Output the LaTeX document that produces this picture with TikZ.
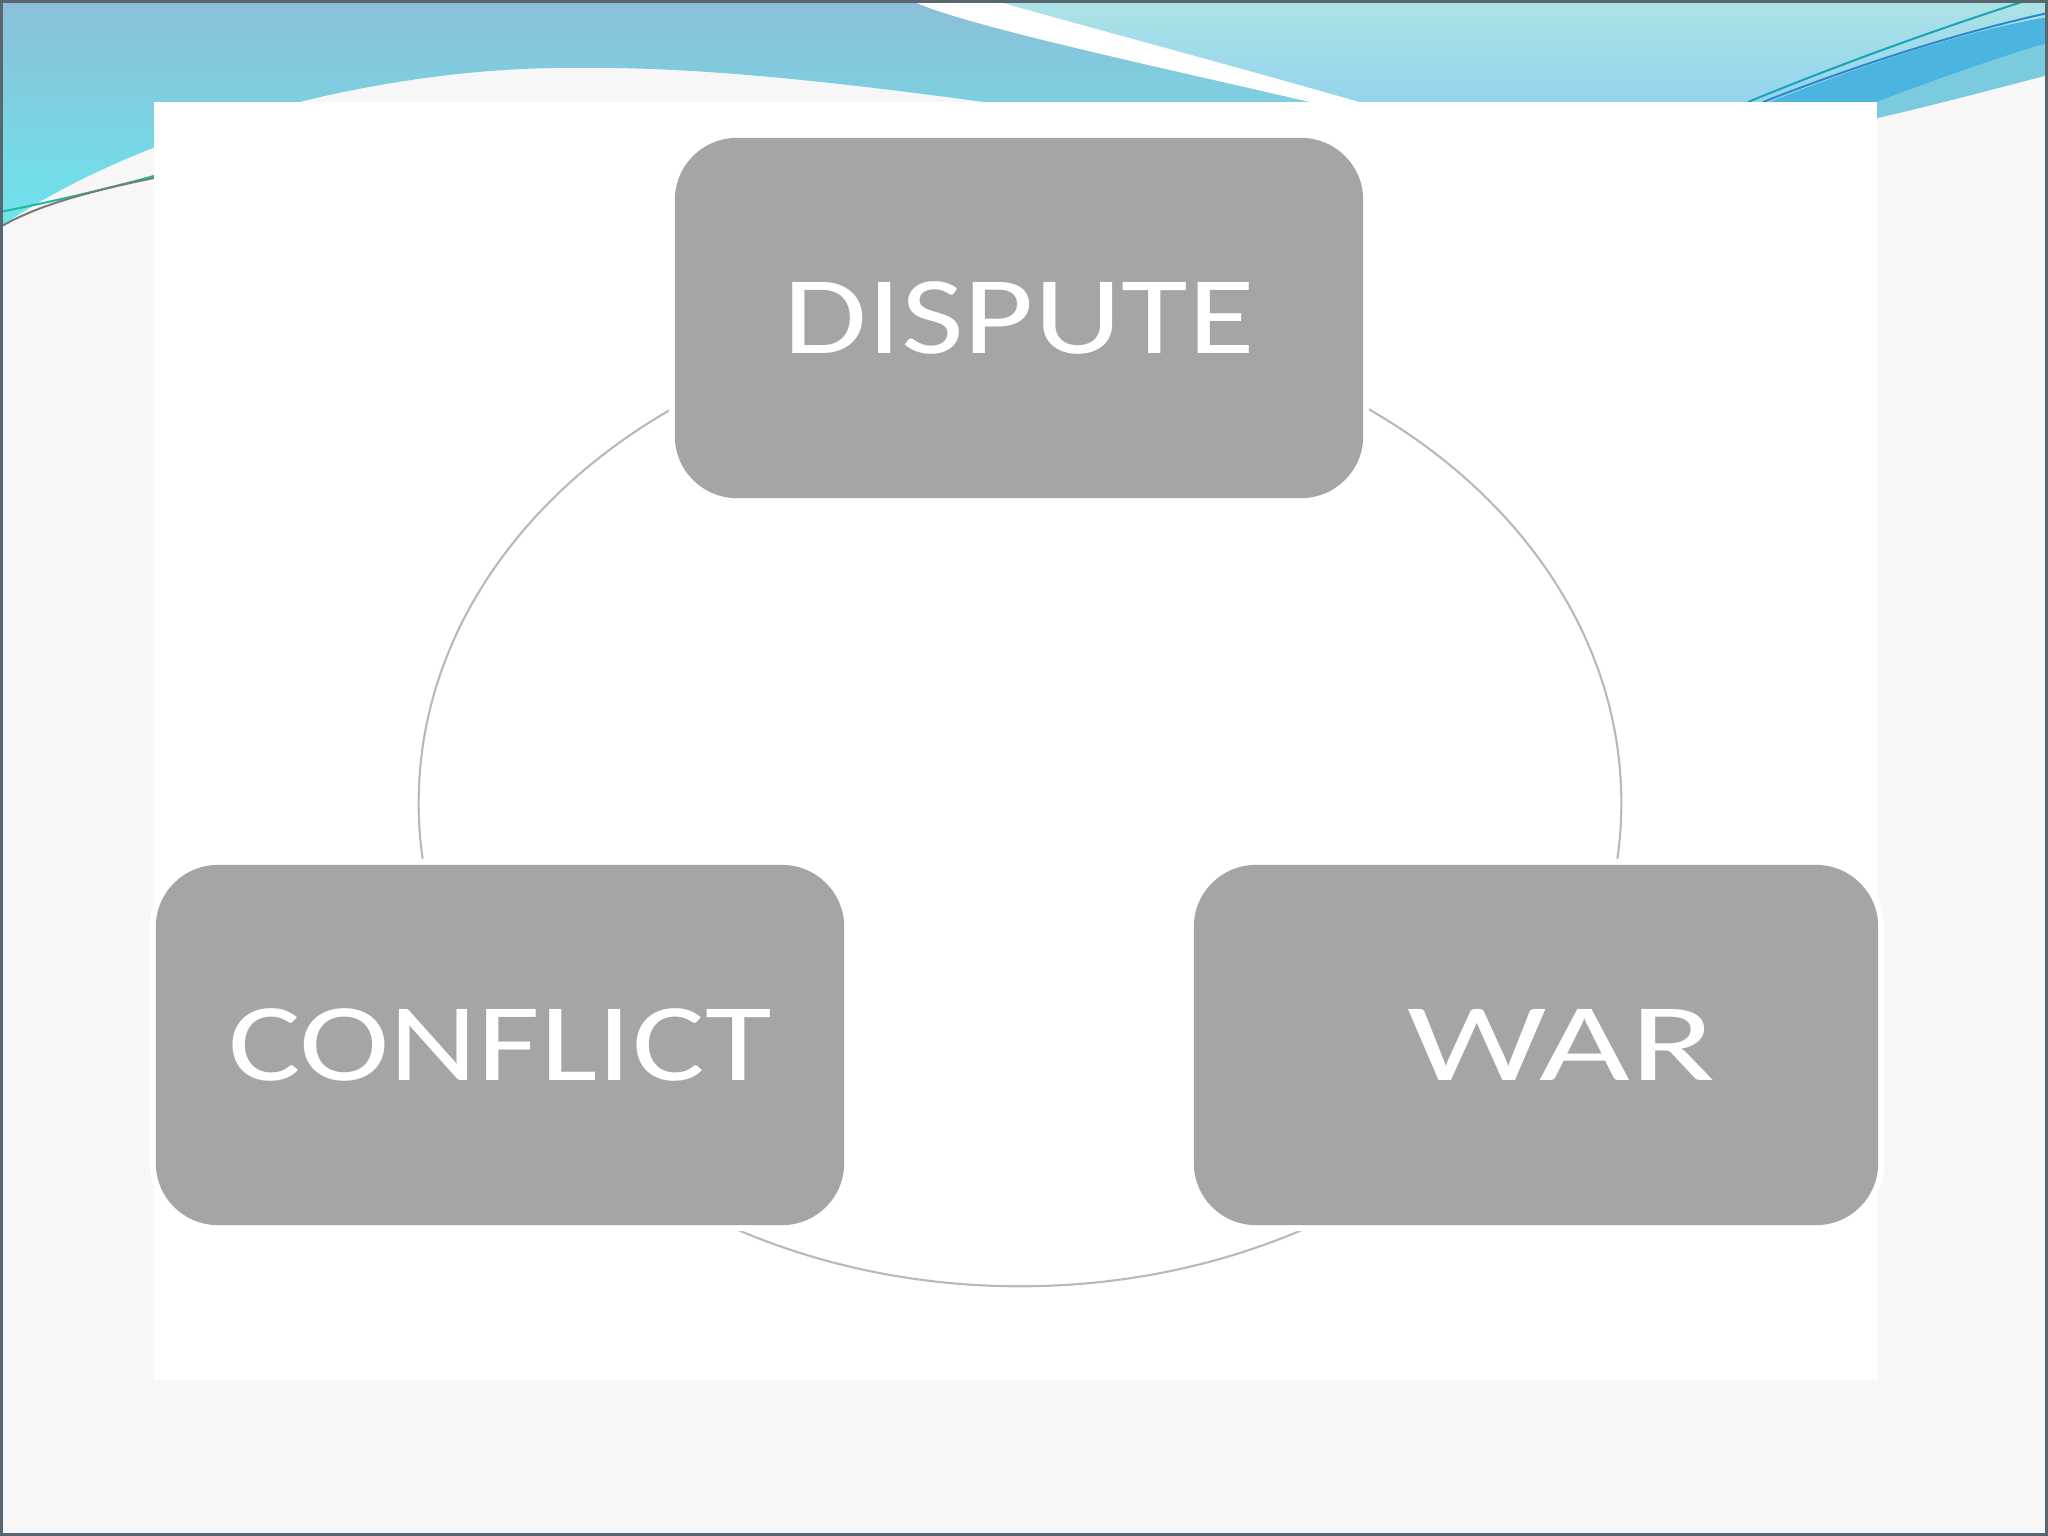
\documentclass[tikz,border=0pt]{standalone}
\usepackage{fontspec}
\setmainfont[FakeStretch=1.23]{Carlito}
\usepackage{tikz}
\usetikzlibrary{positioning}
\usepackage{xcolor}

\definecolor{slidebg}{HTML}{F7F7F7}
\definecolor{waveblue}{HTML}{8BBFD7}
\definecolor{wavecyan}{HTML}{6DE4EE}
\definecolor{skycyan}{HTML}{ADE3E6}
\definecolor{skyblue}{HTML}{90D1EE}
\definecolor{banddark}{HTML}{4CB5DF}
\definecolor{bandlight}{HTML}{7ACBE0}
\definecolor{lineteal}{HTML}{17A3B8}
\definecolor{lineblue}{HTML}{2A88CC}
\definecolor{leafteal}{HTML}{1EB89E}
\definecolor{leafgray}{HTML}{7A7A7A}
\definecolor{boxgray}{HTML}{A5A5A5}
\definecolor{ringgray}{HTML}{B9B9B9}
\definecolor{slideframe}{HTML}{5A666E}

\begin{document}
\begin{tikzpicture}[
  x=0.01cm, y=-0.01cm,
  font=\fontsize{31.5}{38}\selectfont,
  stage/.style={fill=boxgray, rounded corners=0.62cm, inner sep=0pt,
    minimum width=6.88cm, minimum height=3.6cm, text=white,
    preaction={draw=white, line width=0.12cm}},
  cycleline/.style={draw=ringgray, line width=0.6pt},
  thread/.style={line width=0.02cm}
]
\useasboundingbox (0,0) rectangle (2048,1536);
% ---- slide background ----
\fill[slidebg] (0,0) rectangle (2048,1536);
\shade[top color=waveblue, bottom color=wavecyan]
  (0,0) -- (992,0) .. controls (1080,25) and (1230,65) .. (1359,102)
  -- (1359,130) -- (984,130) -- (984,102)
  .. controls (850,84) and (700,66) .. (575,68)
  .. controls (380,66) and (140,130) .. (0,227) -- cycle;
\shade[top color=skycyan, bottom color=skyblue]
  (992,0) -- (2048,0) -- (2048,75)
  .. controls (1990,90) and (1930,106) .. (1877,118) -- (1359,118) -- (1359,102)
  .. controls (1230,65) and (1080,25) .. (992,0) -- cycle;
\fill[white] (911,0) .. controls (950,22) and (1150,65) .. (1310,102)
  -- (1359,102) .. controls (1230,65) and (1080,25) .. (992,0) -- cycle;
% right bands and threads
\fill[banddark] (1770,102) .. controls (1870,62) and (1970,30) .. (2048,17)
  -- (2048,43) .. controls (1990,60) and (1930,82) .. (1877,102) -- cycle;
\fill[bandlight] (1877,102) .. controls (1930,82) and (1990,60) .. (2048,43)
  -- (2048,75) .. controls (1990,90) and (1930,106) .. (1877,118) -- cycle;
\draw[thread, lineteal] (1748,102) .. controls (1850,60) and (1950,25) .. (2028,0);
\draw[thread, lineblue] (1763,102) .. controls (1870,60) and (1970,30) .. (2048,13);
% left threads
\draw[thread, leafteal] (0,212) .. controls (60,200) and (110,188) .. (154,176);
\draw[thread, leafgray] (0,227) .. controls (30,210) and (70,195) .. (154,178);
% ---- white panel ----
\fill[white] (154,102) rectangle (1877,1380);
% ---- cycle ----
\coordinate (hub) at (1020,803);
\draw[cycleline] (hub) ellipse [x radius=6.01cm, y radius=4.83cm];
\node[stage] (dispute) at (1019,318) {DISPUTE};
\node[stage] (conflict) at (500,1045) {CONFLICT};
\node[stage, minimum width=6.84cm] (war) at (1536,1045) {\hspace{0.5cm}\scalebox{1.15}[1]{WAR}};
% ---- frame ----
\draw[slideframe, line width=0.03cm] (1.5,1.5) rectangle (2046.5,1534.5);
\end{tikzpicture}
\end{document}
